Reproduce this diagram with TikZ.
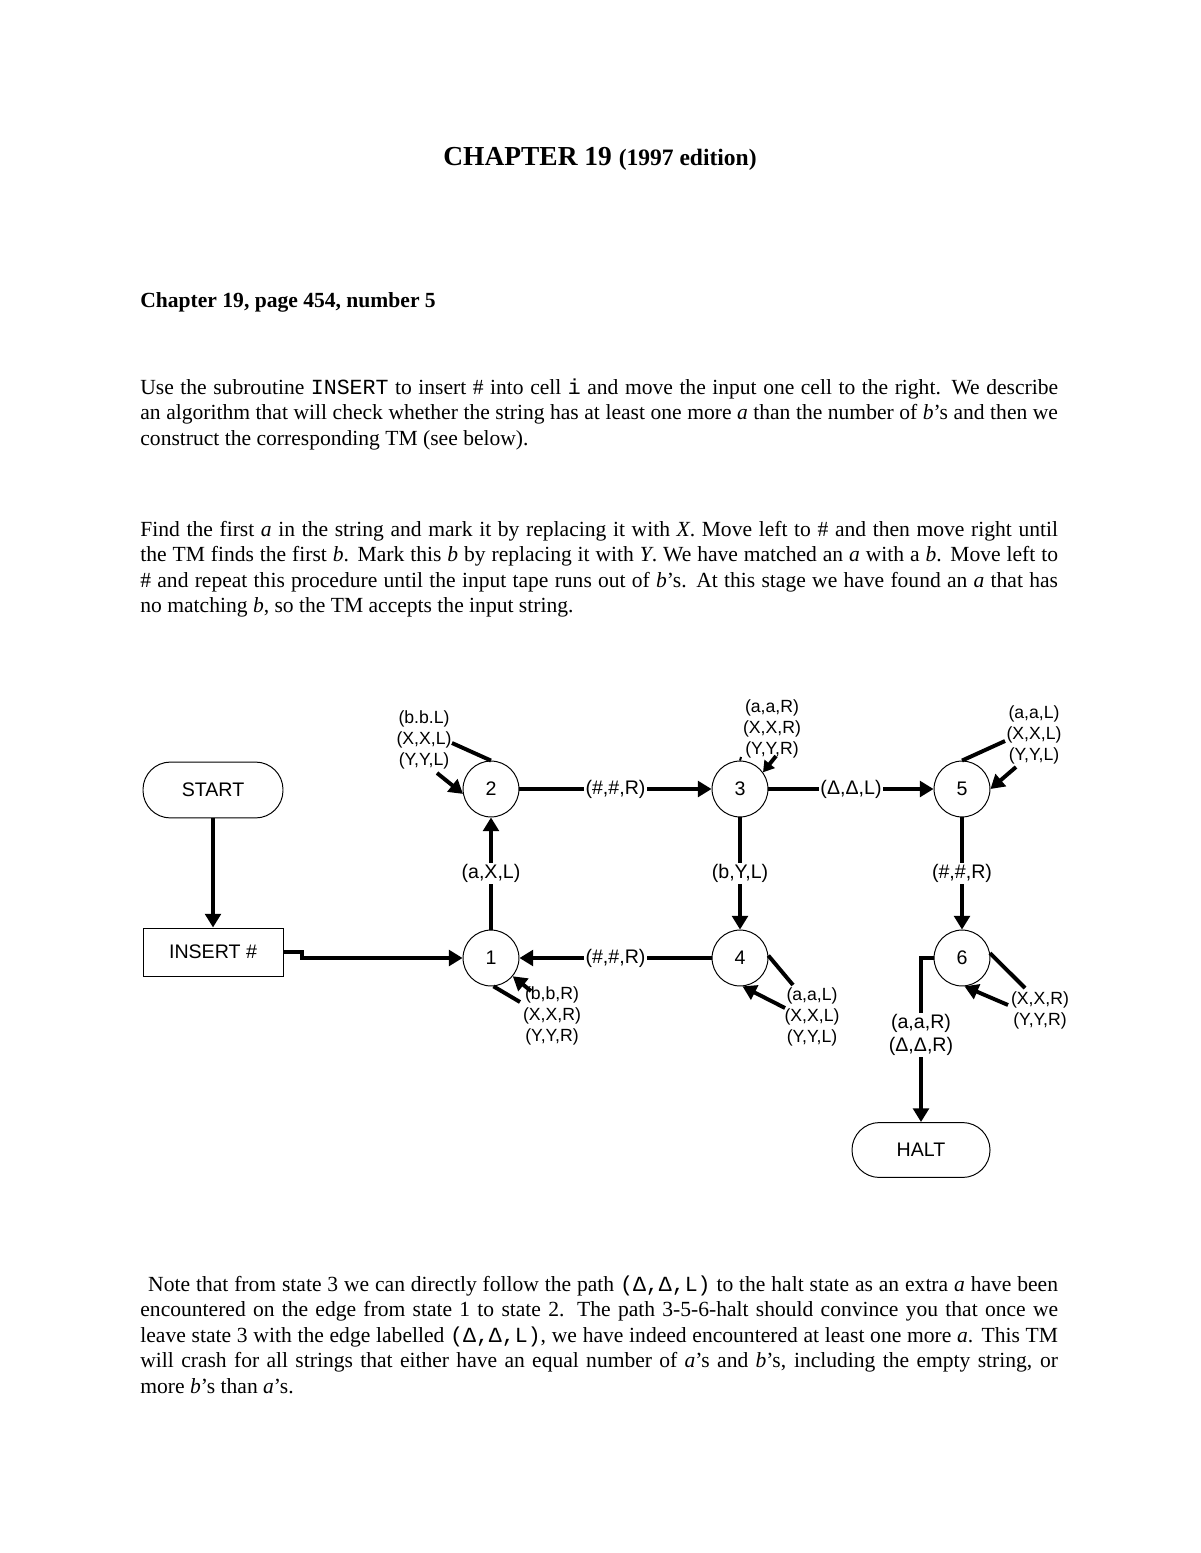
\documentclass[tikz,border=0pt]{standalone}
\usepackage{fontspec}
\setmainfont{Liberation Serif}
\setsansfont{Liberation Sans}
\setmonofont{Liberation Mono}
\usetikzlibrary{arrows.meta}
\newcommand\justline[1]{\makebox[468pt][s]{#1}}
\begin{document}
\begin{tikzpicture}[x=0.51pt,y=-0.51pt,
  state/.style={circle,draw,line width=0.5pt,minimum size=28.5pt,inner sep=0pt,font=\sffamily\fontsize{10}{12}\selectfont},
  term/.style={draw,line width=0.5pt,rounded corners=14pt,minimum width=71.4pt,minimum height=28.5pt,font=\sffamily\fontsize{10}{12}\selectfont},
  proc/.style={draw,line width=0.5pt,minimum width=71.4pt,minimum height=24.5pt,font=\sffamily\fontsize{10}{12}\selectfont},
  conn/.style={line width=2pt},
  arr/.style={conn,-{Triangle[length=7pt,width=8pt]}},
  elab/.style={fill=white,inner sep=0.6pt,font=\sffamily\fontsize{10}{11.7}\selectfont,align=center},
  llab/.style={inner sep=0pt,font=\sffamily\fontsize{9}{10.7}\selectfont,align=center},
  txt/.style={inner sep=0pt,anchor=base west,font=\fontsize{11}{13}\selectfont}
]
\useasboundingbox (0,0) rectangle (1200,1553);
\fill[white] (0,0) rectangle (1200,1553);

% ---------- text ----------
\node[inner sep=0pt,anchor=base] (title) at (600,166) {\fontsize{14}{16}\selectfont\bfseries CHAPTER 19 \fontsize{12}{14}\selectfont(1997 edition)};
\node[txt] (sub) at (140,307) {\bfseries Chapter 19, page 454, number 5};

\node[txt] (p1a) at (140,394) {\justline{Use the subroutine \texttt{INSERT} to insert \# into cell \texttt{i} and move the input one cell to the right. We describe}};
\node[txt] (p1b) at (140,419.5) {\justline{an algorithm that will check whether the string has at least one more \textit{a} than the number of \textit{b}'s and then we}};
\node[txt] (p1c) at (140,445) {construct the corresponding TM (see below).};

\node[txt] (p2a) at (140,536) {\justline{Find the first \textit{a} in the string and mark it by replacing it with \textit{X}. Move left to \# and then move right until}};
\node[txt] (p2b) at (140,561.5) {\justline{the TM finds the first \textit{b}. Mark this \textit{b} by replacing it with \textit{Y}. We have matched an \textit{a} with a \textit{b}. Move left to}};
\node[txt] (p2c) at (140,587) {\justline{\# and repeat this procedure until the input tape runs out of \textit{b}'s. At this stage we have found an \textit{a} that has}};
\node[txt] (p2d) at (140,612.5) {no matching \textit{b}, so the TM accepts the input string.};

\node[txt] (p3a) at (140,1291) {\justline{\hspace*{4pt}Note that from state 3 we can directly follow the path \texttt{(Δ,Δ,L)} to the halt state as an extra \textit{a} have been}};
\node[txt] (p3b) at (140,1316.5) {\justline{encountered on the edge from state 1 to state 2. The path 3-5-6-halt should convince you that once we}};
\node[txt] (p3c) at (140,1342) {\justline{leave state 3 with the edge labelled \texttt{(Δ,Δ,L)}, we have indeed encountered at least one more \textit{a}. This TM}};
\node[txt] (p3d) at (140,1367.5) {\justline{will crash for all strings that either have an equal number of \textit{a}'s and \textit{b}'s, including the empty string, or}};
\node[txt] (p3e) at (140,1393) {more \textit{b}'s than \textit{a}'s.};

% ---------- diagram nodes ----------
\node[term] (start) at (213,790) {START};
\node[proc] (ins) at (213,952) {INSERT \#};
\node[state] (s2) at (491,789) {2};
\node[state] (s1) at (491,958) {1};
\node[state] (s3) at (740,789) {3};
\node[state] (s4) at (740,958) {4};
\node[state] (s5) at (962,789) {5};
\node[state] (s6) at (962,958) {6};
\node[term,minimum width=70.4pt,minimum height=28pt] (halt) at (921,1150) {HALT};

% ---------- main edges ----------
\draw[arr] (start) -- (ins);
\coordinate (j1) at (302,952);
\coordinate (j2) at (302,958);
\draw[arr] (ins.east) -- (j1) -- (j2) -- (s1.west);
\draw[arr] (s1) -- node[elab]{(a,X,L)} (s2);
\draw[arr] (s2) -- node[elab]{(\#,\#,R)} (s3);
\draw[arr] (s3) -- node[elab]{(Δ,Δ,L)} (s5);
\draw[arr] (s3) -- node[elab]{(b,Y,L)} (s4);
\draw[arr] (s4) -- node[elab]{(\#,\#,R)} (s1);
\draw[arr] (s5) -- node[elab]{(\#,\#,R)} (s6);
\coordinate (h1) at (921,958);
\draw[arr] (s6.west) -- (h1) -- node[elab,pos=0.47]{(a,a,R)\\(Δ,Δ,R)} (halt.north);

% ---------- loops ----------
% state 2
\coordinate (l2a) at (452,743);
\coordinate (l2b) at (437,773);
\draw[conn] (s2.north) -- (l2a);
\draw[arr] (l2b) -- (s2.190);
\node[llab] (t2) at (424,740) {(b.b.L)\\(X,X,L)\\(Y,Y,L)};
% state 1
\coordinate (l1a) at (520,1002);
\coordinate (l1b) at (531,991);
\draw[conn] (s1.-85) -- (l1a);
\draw[arr] (l1b) -- (s1.-40);
\node[llab] (t1) at (552,1016) {(b,b,R)\\(X,X,R)\\(Y,Y,R)};
% state 3
\coordinate (l3a) at (741,757);
\coordinate (l3b) at (776,756);
\draw[line width=1pt] (s3.north) -- (l3a);
\draw[conn,-{Triangle[length=5.5pt,width=6.5pt]}] (l3b) -- (s3.36);
\node[llab] (t3) at (772,729) {(a,a,R)\\(X,X,R)\\(Y,Y,R)};
% state 5
\coordinate (l5a) at (1005,741);
\coordinate (l5b) at (1016,767);
\draw[conn] (s5.north) -- (l5a);
\draw[arr] (l5b) -- (s5.east);
\node[llab] (t5) at (1034,735) {(a,a,L)\\(X,X,L)\\(Y,Y,L)};
% state 4
\coordinate (l4a) at (793,985);
\coordinate (l4b) at (785,1008);
\draw[conn] (s4.5) -- (l4a);
\draw[arr] (l4b) -- (s4.-85);
\node[llab] (t4) at (812,1017) {(a,a,L)\\(X,X,L)\\(Y,Y,L)};
% state 6
\coordinate (l6a) at (1025,988);
\coordinate (l6b) at (1008,1005);
\draw[conn] (s6.10) -- (l6a);
\draw[arr] (l6b) -- (s6.-85);
\node[llab] (t6) at (1040,1010) {(X,X,R)\\(Y,Y,R)};
\end{tikzpicture}
\end{document}
